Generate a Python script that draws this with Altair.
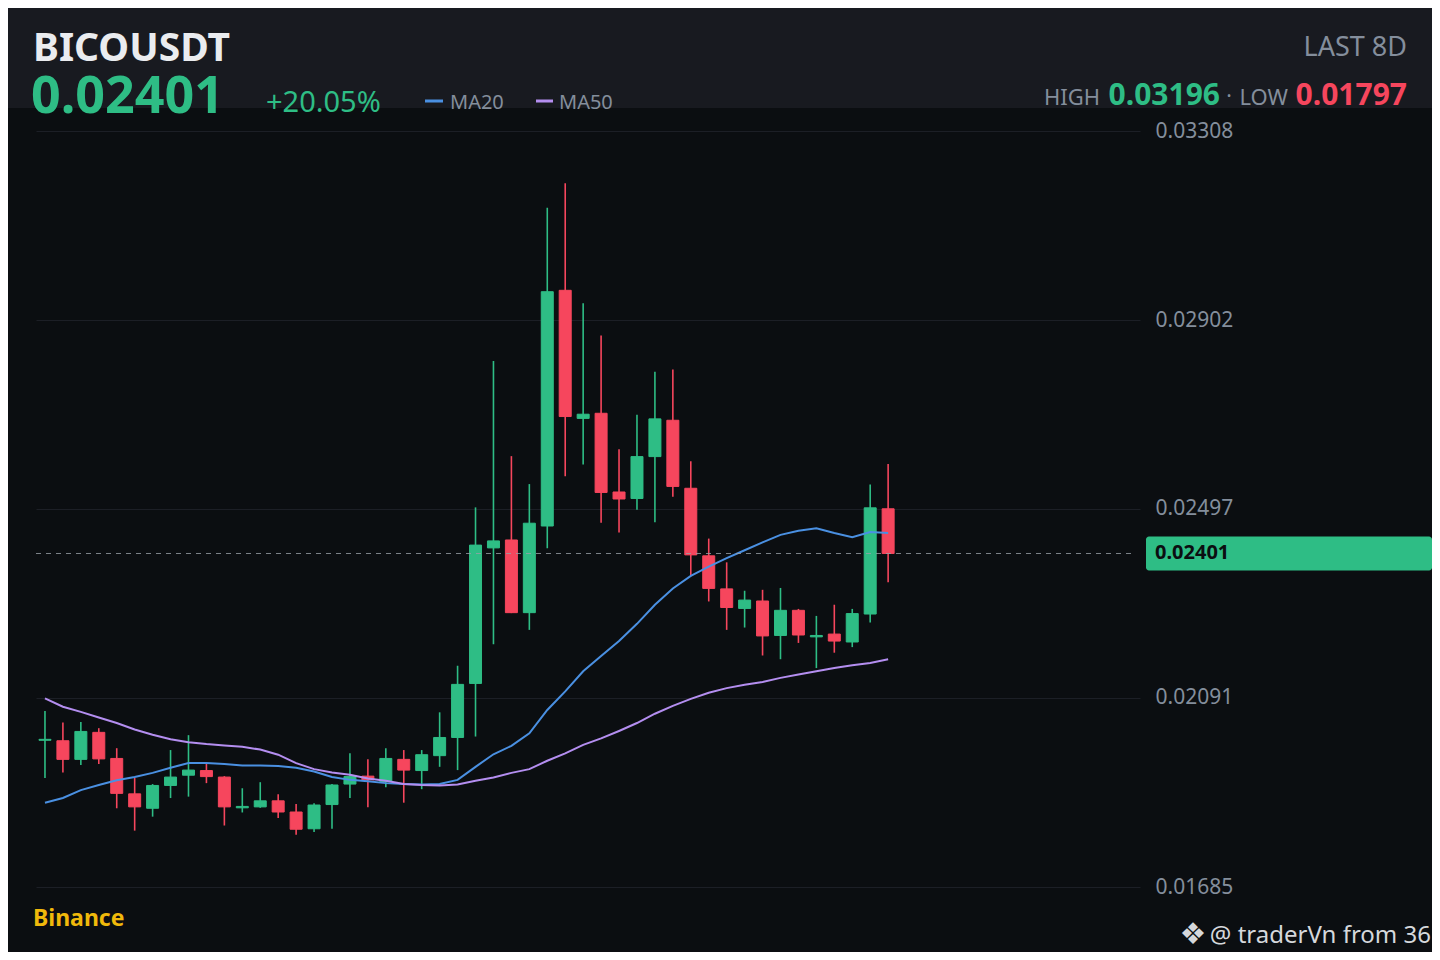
import altair as alt
import pandas as pd

# ---- data (48 candles, oldest first) ----
opens = [0.02000, 0.01999, 0.01959, 0.02017, 0.01961, 0.01885, 0.01854, 0.01903, 0.01925, 0.01935,
         0.01921, 0.01855, 0.01857, 0.01870, 0.01846, 0.01810, 0.01862, 0.01906, 0.01923, 0.01911,
         0.01959, 0.01935, 0.01967, 0.02006, 0.02122, 0.02413, 0.02430, 0.02274, 0.02460, 0.02966,
         0.02691, 0.02702, 0.02533, 0.02519, 0.02609, 0.02687, 0.02541, 0.02396, 0.02325, 0.02283,
         0.02299, 0.02225, 0.02279, 0.02222, 0.02228, 0.02211, 0.02271, 0.02497]
highs = [0.02063, 0.02038, 0.02039, 0.02026, 0.01983, 0.01919, 0.01906, 0.01979, 0.02011, 0.01951,
         0.01923, 0.01897, 0.01910, 0.01884, 0.01863, 0.01865, 0.01906, 0.01972, 0.01959, 0.01983,
         0.01979, 0.01979, 0.02060, 0.02160, 0.02500, 0.02814, 0.02610, 0.02550, 0.03143, 0.03196,
         0.02938, 0.02869, 0.02625, 0.02699, 0.02791, 0.02796, 0.02599, 0.02433, 0.02382, 0.02321,
         0.02323, 0.02327, 0.02282, 0.02267, 0.02291, 0.02282, 0.02549, 0.02593]
lows = [0.01919, 0.01931, 0.01947, 0.01949, 0.01854, 0.01806, 0.01836, 0.01876, 0.01879, 0.01908,
        0.01817, 0.01845, 0.01855, 0.01833, 0.01797, 0.01803, 0.01810, 0.01876, 0.01856, 0.01899,
        0.01866, 0.01895, 0.01943, 0.01936, 0.02008, 0.02206, 0.02273, 0.02237, 0.02412, 0.02567,
        0.02592, 0.02467, 0.02446, 0.02495, 0.02468, 0.02523, 0.02352, 0.02298, 0.02237, 0.02242,
        0.02182, 0.02174, 0.02209, 0.02155, 0.02188, 0.02200, 0.02253, 0.02339]
closes = [0.02002, 0.01959, 0.02019, 0.01960, 0.01886, 0.01857, 0.01903, 0.01921, 0.01936, 0.01922,
          0.01857, 0.01858, 0.01870, 0.01846, 0.01809, 0.01861, 0.01904, 0.01922, 0.01915, 0.01961,
          0.01936, 0.01969, 0.02006, 0.02120, 0.02419, 0.02428, 0.02274, 0.02466, 0.02963, 0.02695,
          0.02700, 0.02532, 0.02518, 0.02609, 0.02690, 0.02545, 0.02398, 0.02326, 0.02285, 0.02301,
          0.02224, 0.02279, 0.02226, 0.02225, 0.02213, 0.02272, 0.02499, 0.02401]
ma20 = [0.01866, 0.01876, 0.01893, 0.01904, 0.01914, 0.01921, 0.01930, 0.01941, 0.01951, 0.01951,
        0.01949, 0.01946, 0.01946, 0.01945, 0.01941, 0.01933, 0.01921, 0.01915, 0.01912, 0.01908,
        0.01906, 0.01905, 0.01906, 0.01915, 0.01943, 0.01970, 0.01988, 0.02015, 0.02065, 0.02105,
        0.02148, 0.02181, 0.02213, 0.02250, 0.02291, 0.02326, 0.02353, 0.02373, 0.02391, 0.02408,
        0.02425, 0.02441, 0.02450, 0.02455, 0.02445, 0.02436, 0.02447, 0.02445]
ma50 = [0.02090, 0.02072, 0.02061, 0.02049, 0.02037, 0.02023, 0.02012, 0.02002, 0.01996, 0.01992,
        0.01989, 0.01986, 0.01980, 0.01969, 0.01951, 0.01938, 0.01931, 0.01926, 0.01918, 0.01913,
        0.01906, 0.01904, 0.01903, 0.01905, 0.01913, 0.01920, 0.01930, 0.01938, 0.01956, 0.01972,
        0.01990, 0.02004, 0.02020, 0.02037, 0.02057, 0.02074, 0.02089, 0.02102, 0.02112, 0.02119,
        0.02125, 0.02134, 0.02141, 0.02148, 0.02155, 0.02161, 0.02166, 0.02174]
axis_ticks = [0.01685, 0.02091, 0.02497, 0.02902, 0.03308]

symbol = "BICOUSDT"
period_label = "LAST 8D"
exchange = "Binance"
credit = "@ traderVn from 36"

GREEN = "#2ebd85"
RED = "#f6465d"
GREY = "#848e9c"
BLUE = "#4a90e2"
PURPLE = "#b48ef0"
BG = "#0b0e11"
HEADER = "#181a20"
FONT = "Noto Sans"

df = pd.DataFrame({
    "i": list(range(len(opens))),
    "o": opens, "h": highs, "l": lows, "c": closes,
    "ma20": ma20, "ma50": ma50,
})
df["dir"] = ["up" if c >= o else "down" for o, c in zip(opens, closes)]

last = closes[-1]
change = (last / opens[0] - 1) * 100
hi = max(highs)
lo = min(lows)
one = pd.DataFrame({"c": [last]})

xscale = alt.Scale(domain=[-0.5, 61.04], nice=False, zero=False, padding=0)
yscale = alt.Scale(domain=[0.0154546, 0.0357206], nice=False, zero=False, padding=0)
yaxis = alt.Axis(orient="right", values=axis_ticks, format=".5f", labelColor=GREY,
                 labelFontSize=21, labelFont=FONT, labelPadding=15, domain=False,
                 ticks=False, grid=True, gridColor="#1c1f26", gridWidth=1,
                 labelOverlap=False, title=None)
colscale = alt.Scale(domain=["up", "down"], range=[GREEN, RED])


def Y(f):
    return alt.Y(f, type="quantitative", scale=yscale, axis=yaxis, title=None)


X = alt.X("i:Q", scale=xscale, axis=None, title=None)
base = alt.Chart(df)

header = alt.Chart(one).mark_rect(color=HEADER).encode(
    x=alt.value(-28), x2=alt.value(1396), y=alt.value(0), y2=alt.value(100))

wicks = base.mark_rule(strokeWidth=1.6).encode(
    x=X, y=Y("l"), y2=alt.Y2("h"),
    color=alt.Color("dir:N", scale=colscale, legend=None))

bodies = base.mark_bar(size=12, strokeWidth=1).encode(
    x=X, y=Y("o"), y2=alt.Y2("c"),
    color=alt.Color("dir:N", scale=colscale, legend=None),
    stroke=alt.Stroke("dir:N", scale=colscale, legend=None))

line20 = base.mark_line(color=BLUE, strokeWidth=2).encode(x=X, y=Y("ma20"))
line50 = base.mark_line(color=PURPLE, strokeWidth=2).encode(x=X, y=Y("ma50"))

lastline = alt.Chart(one).mark_rule(color="#9aa0a8", strokeDash=[5, 5], strokeWidth=1, opacity=0.8).encode(
    y=Y("c"), x=alt.value(0), x2=alt.value(1099))

pricebox = alt.Chart(one).mark_rect(color=GREEN, cornerRadius=3, yOffset=-17, y2Offset=17).encode(
    x=alt.value(1110), x2=alt.value(1396), y=Y("c"), y2=alt.Y2("c"))
pricetext = alt.Chart(one).mark_text(align="left", baseline="middle", font=FONT, fontSize=20,
                                     fontWeight="bold", color=BG).encode(
    x=alt.value(1119), y=Y("c"), text=alt.Text("c:Q", format=".5f"))


def label(text, x, y, size, color, weight="normal", align="left", font=FONT, baseline="alphabetic"):
    # x, y given in page pixels; converted to plot coordinates
    return alt.Chart(one).mark_text(text=text, align=align, baseline=baseline, font=font,
                                    fontSize=size, fontWeight=weight, color=color).encode(
        x=alt.value(x - 36), y=alt.value(y - 8))


texts = [
    label(symbol, 33, 61, 39, "#eaecef", "bold"),
    label(f"{last:.5f}", 31, 113, 52, GREEN, "bold"),
    label(f"{change:+.2f}%", 266, 112, 29, GREEN),
    label("MA20", 450, 109, 20, GREY),
    label("MA50", 559, 109, 20, GREY),
    label(period_label, 1407, 56, 27, GREY, align="right"),
    label(f"{lo:.5f}", 1407, 105, 30, RED, "bold", align="right"),
    label("LOW", 1288, 105, 22, GREY, align="right"),
    label("·", 1229, 103, 21, GREY, align="center"),
    label(f"{hi:.5f}", 1220, 105, 30, GREEN, "bold", align="right"),
    label("HIGH", 1100, 105, 22, GREY, align="right"),
    label(exchange, 33, 926, 23, "#f0b90b", "bold"),
    label(credit, 1431, 943, 24, "#d5d8dc", align="right"),
    label("❖", 1193, 935, 30, "#d5d8dc", align="center", font="DejaVu Sans", baseline="middle"),
]

leg20 = alt.Chart(one).mark_rule(color=BLUE, strokeWidth=3).encode(
    x=alt.value(425 - 36), x2=alt.value(443 - 36), y=alt.value(101 - 8))
leg50 = alt.Chart(one).mark_rule(color=PURPLE, strokeWidth=3).encode(
    x=alt.value(536 - 36), x2=alt.value(553 - 36), y=alt.value(101 - 8))

chart = alt.layer(
    header, wicks, bodies, line20, line50, lastline, pricebox, pricetext, leg20, leg50, *texts
).properties(
    width=1104, height=944,
    padding={"left": 28, "right": 292, "top": 0, "bottom": 0},
    autosize=alt.AutoSizeParams(type="none"),
    background=BG,
).configure_view(stroke=None)

chart.save("out.html", embed_options={"renderer": "svg", "actions": False})
